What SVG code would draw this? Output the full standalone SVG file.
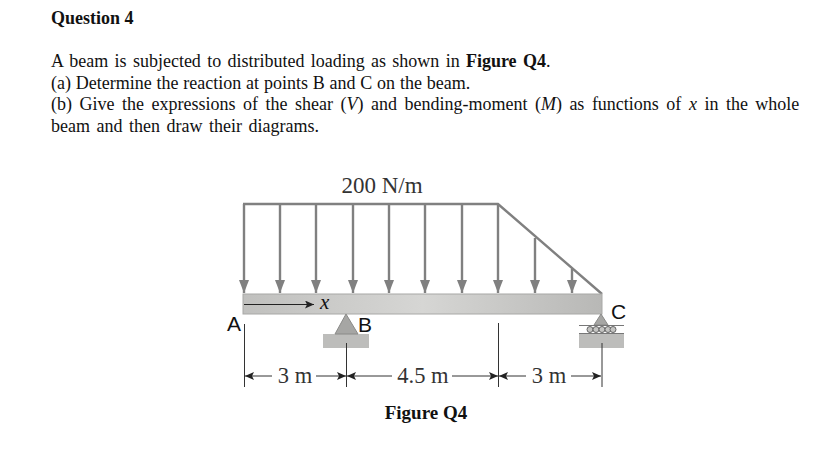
<svg xmlns="http://www.w3.org/2000/svg" width="818" height="458" viewBox="0 0 818 458">
<style>
text{font-family:"Liberation Serif","Times New Roman",serif;fill:#111}
.q{font-size:18px}
.b{font-weight:bold}
.i{font-style:italic}
.d{font-size:22.500px;fill:#333}
.s{font-family:"Liberation Sans",Arial,sans-serif;font-size:21px;fill:#111}
.load{stroke:#808080;stroke-width:2.400;fill:none}
.dim{stroke:#333;stroke-width:1;fill:none}
.sup{fill:#bdbdbb}
</style>
<defs>
<marker id="ah" markerUnits="userSpaceOnUse" markerWidth="10" markerHeight="10" refX="9" refY="4" orient="auto"><path d="M0 0L9 4L0 8L2 4Z" fill="#222"/></marker>
<marker id="lh" markerUnits="userSpaceOnUse" markerWidth="14" markerHeight="10" refX="13" refY="5" orient="auto"><path d="M0 0L13 5L0 10Z" fill="#808080"/></marker>
<linearGradient id="bm" x1="0" x2="1" y1="0" y2="0"><stop offset="0" stop-color="#c0c0be"/><stop offset=".5" stop-color="#d6d6d4"/><stop offset="1" stop-color="#b8b8b6"/></linearGradient>
</defs>
<rect width="818" height="458" fill="#fff"/>
<g id="question">
<text class="b" x="51" y="24" font-size="18">Question 4</text>
<text class="q" x="51" y="67" word-spacing="1.800">A beam is subjected to distributed loading as shown in <tspan class="b">Figure Q4</tspan>.</text>
<text class="q" x="51" y="89" word-spacing="0.300">(a) Determine the reaction at points B and C on the beam.</text>
<text class="q" x="51" y="110" word-spacing="3">(b) Give the expressions of the shear (<tspan class="i">V</tspan>) and bending-moment (<tspan class="i">M</tspan>) as functions of <tspan class="i">x</tspan> in the whole</text>
<text class="q" x="51" y="132" word-spacing="2">beam and then draw their diagrams.</text>
</g>
<g id="load">
<path class="load" d="M243 204H498L602 294"/>
<path class="load" marker-end="url(#lh)" d="M244 204V293"/>
<path class="load" marker-end="url(#lh)" d="M280 204V293"/>
<path class="load" marker-end="url(#lh)" d="M316 204V293"/>
<path class="load" marker-end="url(#lh)" d="M353 204V293"/>
<path class="load" marker-end="url(#lh)" d="M389 204V293"/>
<path class="load" marker-end="url(#lh)" d="M425 204V293"/>
<path class="load" marker-end="url(#lh)" d="M462 204V293"/>
<path class="load" marker-end="url(#lh)" d="M498 204V293"/>
<path class="load" marker-end="url(#lh)" d="M535 238V293"/>
<path class="load" marker-end="url(#lh)" d="M572 269V293"/>
<text class="d" x="382" y="193" text-anchor="middle" style="font-size:23px">200 N/m</text>
</g>
<g id="beam">
<rect x="243" y="294" width="359" height="20" fill="url(#bm)" stroke="#a8a8a6" stroke-width="1"/>
<path d="M244 304.500H314" stroke="#222" stroke-width="1" marker-end="url(#ah)"/>
<text class="i" x="320" y="309" font-size="21">x</text>
</g>
<g id="node-a"><text class="s" x="227" y="331">A</text></g>
<g id="node-b">
<rect class="sup" x="323" y="334" width="46" height="14"/>
<path d="M346 314L335 334H358Z" fill="#a6a6a4" stroke="#8a8a88"/>
<text class="s" x="358" y="332">B</text>
</g>
<g id="node-c">
<rect class="sup" x="579" y="334" width="45" height="14"/>
<path d="M601 314L594 325H608Z" fill="#a6a6a4" stroke="#8a8a88"/>
<path d="M579 325.500H624M579 333.500H624" stroke="#777" stroke-width="1"/>
<g fill="#c4c4c2" stroke="#666" stroke-width="1"><circle cx="590" cy="329.500" r="3"/><circle cx="596" cy="329.500" r="3"/><circle cx="602" cy="329.500" r="3"/><circle cx="608" cy="329.500" r="3"/><circle cx="613" cy="329.500" r="3"/></g>
<text class="s" x="611" y="319">C</text>
</g>
<g id="connectors">
<path class="dim" d="M244.500 324V387M346.500 343V387M498.500 323V387M602 343V387"/>
<path class="dim" marker-end="url(#ah)" d="M272 376H245"/>
<path class="dim" marker-end="url(#ah)" d="M316 376H346"/>
<path class="dim" marker-end="url(#ah)" d="M392 376H347"/>
<path class="dim" marker-end="url(#ah)" d="M452 376H498"/>
<path class="dim" marker-end="url(#ah)" d="M526 376H499"/>
<path class="dim" marker-end="url(#ah)" d="M571 376H601"/>
</g>
<g id="dims">
<text class="d" x="295" y="383" text-anchor="middle">3 m</text>
<text class="d" x="423" y="383" text-anchor="middle">4.5 m</text>
<text class="d" x="549" y="383" text-anchor="middle">3 m</text>
</g>
<text class="b" x="426" y="419" font-size="19" text-anchor="middle">Figure Q4</text>
</svg>
